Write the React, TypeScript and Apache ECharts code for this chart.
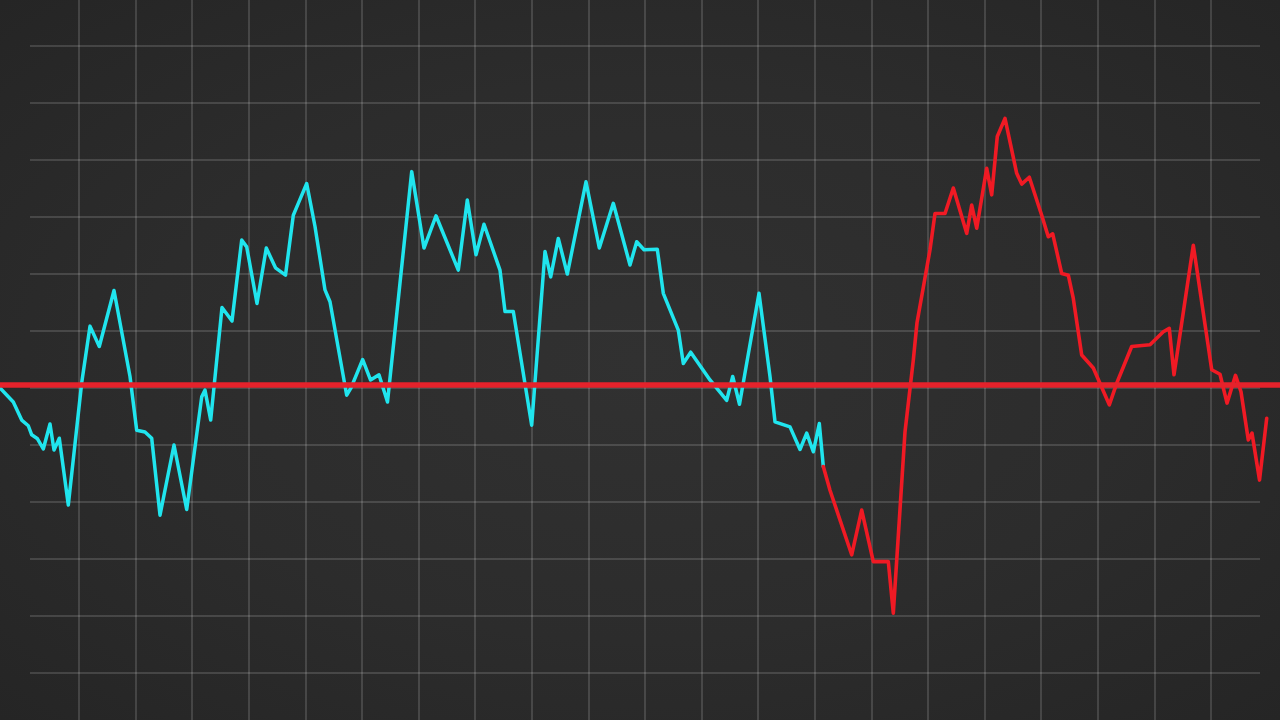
import React, { useEffect, useRef } from "react";
import * as echarts from "echarts";

// time (tenths of the frame width units) and value for the rising (cyan) part
const cyanTime = [
  0.0, 1.33, 2.17, 2.83, 3.17, 3.75, 4.33, 5.0, 5.4, 5.93, 6.83, 8.17, 9.0, 9.93, 11.4, 13.0,
  13.67, 14.5, 15.17, 16.0, 17.4, 18.67, 20.17, 20.5, 21.07, 22.2, 23.2, 24.17, 24.67, 25.7,
  26.63, 27.55, 28.55, 29.33, 29.83, 30.67, 31.5, 32.5, 33.0, 34.67, 35.1, 36.27, 37.05, 37.9,
  38.75, 41.17, 42.4, 43.6, 45.83, 46.73, 47.6, 48.4, 50.0, 50.5, 51.33, 53.17, 54.5, 55.07,
  55.83, 56.73, 58.6, 59.93, 61.33, 63.0, 63.67, 64.4, 65.73, 66.33, 67.83, 68.33, 69.07, 71.0,
  72.67, 73.27, 73.95, 75.9, 77.0, 77.5, 79.0, 80.0, 80.67, 81.33, 81.93, 82.33,
];
const cyanValue = [
  -0.5, -3.0, -6.2, -7.2, -8.8, -9.5, -11.3, -6.9, -11.5, -9.4, -21.2, 0.4, 10.4, 6.8, 16.7, 1.5,
  -8.0, -8.3, -9.4, -23.0, -10.6, -22.0, -2.1, -0.9, -6.2, 13.7, 11.3, 25.6, 24.4, 14.4,
  24.2, 20.7, 19.4, 30.0, 32.1, 35.6, 28.0, 16.8, 14.7, -1.8, -0.5, 4.5, 0.9, 1.8,
  -3.0, 37.7, 24.2, 29.9, 20.3, 32.7, 23.0, 28.4, 20.3, 13.0, 13.0, -7.1, 23.6, 19.1,
  25.9, 19.6, 35.9, 24.2, 32.1, 21.2, 25.3, 23.9, 24.0, 16.2, 9.7, 3.8, 5.8, 0.9,
  -2.7, 1.5, -3.4, 16.2, 1.5, -6.5, -7.4, -11.4, -8.5, -11.8, -6.8, -14.4,
];

// red part
const redTime = [
  82.33, 83.0, 85.17, 86.17, 87.33, 88.83, 89.33, 90.5, 91.33, 91.7, 93.0, 93.5, 94.5, 95.33,
  96.67, 97.17, 97.67, 98.67, 99.17, 99.73, 100.5, 101.67, 102.17, 102.93, 104.17, 104.83,
  105.27, 106.17, 106.83, 107.33, 108.17, 109.33, 110.93, 111.67, 113.17, 115.0, 116.33,
  116.93, 117.4, 119.33, 121.17, 122.0, 122.7, 123.55, 124.1, 124.83, 125.2, 125.95, 126.67,
];
const redValue = [
  -14.4, -18.6, -30.0, -22.1, -31.2, -31.2, -40.3, -8.3, 4.4, 11.0, 23.9, 30.3, 30.3, 34.8,
  26.8, 31.8, 27.7, 38.3, 33.6, 43.9, 47.1, 37.4, 35.5, 36.7, 30.0, 26.2,
  26.7, 19.7, 19.4, 15.3, 5.3, 3.0, -3.5, 0.3, 6.8, 7.1, 9.4,
  10.0, 1.8, 24.7, 2.7, 1.9, -3.2, 1.7, -1.2, -9.7, -8.5, -16.8, -5.9,
];

const baselineValue = 0;
const valueMin = -50;
const valueMax = 60;
const timeMax = 128;

const GRID_COLOR = "rgba(255,255,255,0.14)";

export default function App() {
  const ref = useRef<HTMLDivElement>(null);

  useEffect(() => {
    if (!ref.current) return;
    const chart = echarts.init(ref.current, undefined, { renderer: "svg" });
    const hidden = {
      axisLine: { show: false },
      axisTick: { show: false },
      axisLabel: { show: false },
    };
    const option: any = {
      animation: false,
      backgroundColor: "transparent",
      grid: [
        { left: 79, right: 69, top: 0, bottom: 0 },
        { left: 30, right: 20, top: 45.5, bottom: 47.3 },
        { left: 0, right: 0, top: 45.4, bottom: 52 },
      ],
      xAxis: [
        {
          gridIndex: 0, type: "value", min: 0, max: 20, interval: 1, ...hidden,
          splitLine: { show: true, lineStyle: { color: GRID_COLOR, width: 2 } },
        },
        { gridIndex: 1, type: "value", min: 0, max: 1, ...hidden, splitLine: { show: false } },
        { gridIndex: 2, type: "value", min: 0, max: timeMax, ...hidden, splitLine: { show: false } },
      ],
      yAxis: [
        { gridIndex: 0, type: "value", min: 0, max: 1, ...hidden, splitLine: { show: false } },
        {
          gridIndex: 1, type: "value", min: 0, max: 11, interval: 1, ...hidden,
          splitLine: { show: true, lineStyle: { color: GRID_COLOR, width: 2 } },
        },
        { gridIndex: 2, type: "value", min: valueMin, max: valueMax, ...hidden, splitLine: { show: false } },
      ],
      series: [
        {
          type: "line",
          xAxisIndex: 2,
          yAxisIndex: 2,
          data: cyanTime.map((t, i) => [t, cyanValue[i]]),
          showSymbol: false,
          symbol: "none",
          clip: false,
          z: 3,
          lineStyle: { color: "#20e5ee", width: 3.5, join: "round", cap: "round" },
        },
        {
          type: "line",
          xAxisIndex: 2,
          yAxisIndex: 2,
          data: redTime.map((t, i) => [t, redValue[i]]),
          showSymbol: false,
          symbol: "none",
          clip: false,
          z: 4,
          lineStyle: { color: "#f01a24", width: 3.6, join: "round", cap: "round" },
          markLine: {
            silent: true,
            symbol: "none",
            label: { show: false },
            lineStyle: { color: "#e5222b", width: 5.5, type: "solid" },
            data: [{ yAxis: baselineValue }],
          },
        },
      ],
    };
    chart.setOption(option);
    return () => chart.dispose();
  }, []);

  return (
    <div
      style={{
        position: "fixed",
        left: 0,
        top: 0,
        width: 1280,
        height: 720,
        background: "radial-gradient(ellipse at 50% 50%, #313131 0%, #2c2c2c 55%, #252525 100%)",
      }}
    >
      <div ref={ref} style={{ width: 1280, height: 720 }} />
    </div>
  );
}
